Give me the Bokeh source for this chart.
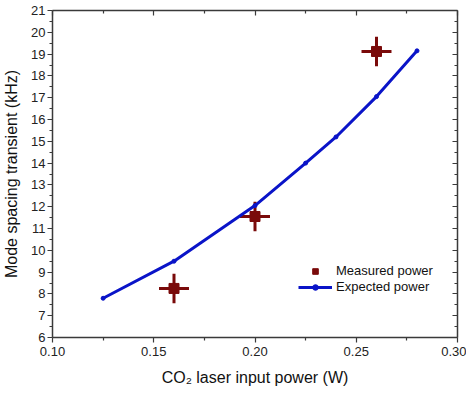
from bokeh.plotting import figure
from bokeh.models import (Range1d, LinearAxis, FixedTicker, Legend, LegendItem,
                          NumeralTickFormatter, CustomJSTickFormatter)
from bokeh.embed import file_html
from bokeh.resources import INLINE

# Measured data (with error bars)
meas_x = [0.16, 0.20, 0.26]
meas_y = [8.25, 11.55, 19.12]
meas_xerr = [0.0074, 0.0074, 0.0074]
meas_yerr = [0.68, 0.68, 0.68]

# Expected curve
exp_x = [0.125, 0.16, 0.20, 0.225, 0.24, 0.26, 0.28]
exp_y = [7.8, 9.5, 12.05, 14.0, 15.2, 17.05, 19.15]

x_ticks = [0.10, 0.15, 0.20, 0.25, 0.30]
x_minor = [0.125, 0.175, 0.225, 0.275]
y_ticks = list(range(6, 22))
y_minor = [v + 0.5 for v in range(6, 21)]

FONT = "Liberation Sans"
AXC = "#3a3a3a"
RED = "#7a0a0a"
BLUE = "#0a14c8"

p = figure(width=466, height=390, output_backend="svg", toolbar_location=None,
           x_range=Range1d(0.10, 0.30), y_range=Range1d(6, 21),
           min_border_left=52, min_border_right=9, min_border_top=10, min_border_bottom=53)
p.grid.visible = False
p.outline_line_color = None
p.background_fill_color = "white"
p.border_fill_color = "white"

# error bars
p.segment(x0=[x - e for x, e in zip(meas_x, meas_xerr)], x1=[x + e for x, e in zip(meas_x, meas_xerr)],
          y0=meas_y, y1=meas_y, line_color=RED, line_width=3)
p.segment(x0=meas_x, x1=meas_x, y0=[y - e for y, e in zip(meas_y, meas_yerr)],
          y1=[y + e for y, e in zip(meas_y, meas_yerr)], line_color=RED, line_width=3)
r_meas = p.scatter(meas_x, meas_y, marker="square", size=10, fill_color=RED, line_color=RED)

r_line = p.line(exp_x, exp_y, line_color=BLUE, line_width=3)
r_dots = p.scatter(exp_x, exp_y, marker="circle", size=4, fill_color=BLUE, line_color=BLUE)

def style(ax, outward=True):
    ax.axis_line_color = AXC
    ax.axis_line_width = 1.5
    ax.major_tick_line_color = AXC
    ax.minor_tick_line_color = AXC
    ax.major_tick_line_width = 1.2
    ax.minor_tick_line_width = 1.2
    if outward:
        ax.major_tick_out = 5; ax.major_tick_in = 0
        ax.minor_tick_out = 3; ax.minor_tick_in = 0
    else:
        ax.major_tick_out = 0; ax.major_tick_in = 5
        ax.minor_tick_out = 0; ax.minor_tick_in = 3
    ax.major_label_text_font = FONT
    ax.major_label_text_font_size = "13px"
    ax.major_label_text_color = "#222222"
    ax.axis_label_text_font = FONT
    ax.axis_label_text_font_size = "16px"
    ax.axis_label_text_font_style = "normal"
    ax.axis_label_text_color = "#111111"

p.xaxis.ticker = FixedTicker(ticks=x_ticks, minor_ticks=x_minor)
p.yaxis.ticker = FixedTicker(ticks=y_ticks, minor_ticks=y_minor)
p.xaxis.formatter = NumeralTickFormatter(format="0.00")
style(p.xaxis[0])
style(p.yaxis[0])
p.xaxis.axis_label = "CO₂ laser input power (W)"
p.yaxis.axis_label = "Mode spacing transient (kHz)"
p.xaxis.major_label_standoff = 4
p.yaxis.major_label_standoff = 2
p.xaxis.axis_label_standoff = 10
p.yaxis.axis_label_standoff = 8

blank = CustomJSTickFormatter(code="return '';")
top = LinearAxis(ticker=FixedTicker(ticks=x_ticks, minor_ticks=x_minor), formatter=blank)
style(top, outward=False)
top.major_label_standoff = 0
top.major_label_text_font_size = "1px"
p.add_layout(top, "above")
right = LinearAxis(ticker=FixedTicker(ticks=y_ticks, minor_ticks=y_minor), formatter=blank)
style(right, outward=False)
right.major_label_standoff = 0
right.major_label_text_font_size = "1px"
p.add_layout(right, "right")

legend = Legend(items=[LegendItem(label="Measured power", renderers=[r_meas]),
                       LegendItem(label="Expected power", renderers=[r_line, r_dots])],
                location=(246, 43), border_line_alpha=0, background_fill_alpha=0,
                padding=0, spacing=1, glyph_width=34, glyph_height=14, label_height=14,
                label_text_font=FONT, label_text_font_size="13px", label_standoff=4,
                label_text_color="#111111")
p.add_layout(legend, "center")

open("out.html", "w").write(file_html(p, INLINE))
